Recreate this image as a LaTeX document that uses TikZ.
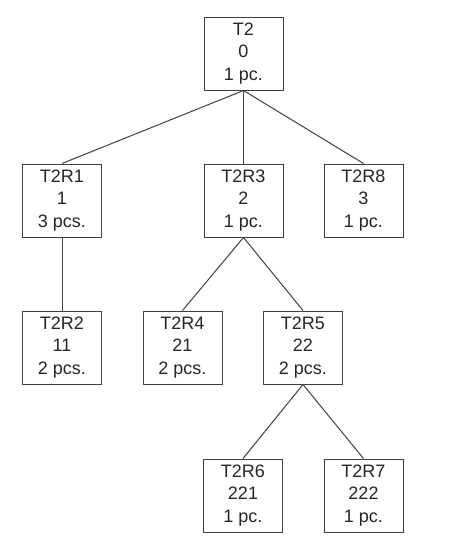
\documentclass[tikz,border=0pt]{standalone}
\usepackage{fontspec}
\setmainfont{Liberation Sans}
\usetikzlibrary{calc}
\tikzstyle{box}=[draw=black!75, line width=1pt, fill=white, align=center,
  minimum width=79pt, minimum height=73pt, inner sep=0pt,
  font=\fontsize{18}{22.5}\selectfont, text=black!85]
\tikzstyle{line}=[draw, line width=1pt, color=black!75]
\newcommand{\element}[2]{node (t#1) [box] {#2}}

\begin{document}
\begin{tikzpicture}[x=1pt,y=1pt]
  \useasboundingbox (0,0) rectangle (474,-550);

  % Root
  \path (243.5,-53.5) \element{0}{T2\\0\\1 pc.};

  % First level
  \path (t0.center)+(-181.5,-147) \element{1}{T2R1\\1\\3 pcs.};
  \path (t0.center)+(0.0,-147) \element{3}{T2R3\\2\\1 pc.};
  \path (t0.center)+(120.0,-147) \element{8}{T2R8\\3\\1 pc.};

  % Second level
  \path (t1.center)+(0.0,-147) \element{2}{T2R2\\11\\2 pcs.};
  \path (t3.center)+(-61.0,-147) \element{4}{T2R4\\21\\2 pcs.};
  \path (t3.center)+(59.5,-147) \element{5}{T2R5\\22\\2 pcs.};

  % Third level
  \path (t5.center)+(-60.0,-148) \element{6}{T2R6\\221\\1 pc.};
  \path (t5.center)+(60.5,-148) \element{7}{T2R7\\222\\1 pc.};

  % Draw lines between elements
  \path [line] (t0.south) -- (t1.north);
  \path [line] (t0.south) -- (t3.north);
  \path [line] (t0.south) -- (t8.north);
  \path [line] (t1.south) -- (t2.north);
  \path [line] (t3.south) -- (t4.north);
  \path [line] (t3.south) -- (t5.north);
  \path [line] (t5.south) -- (t6.north);
  \path [line] (t5.south) -- (t7.north);

\end{tikzpicture}
\end{document}
